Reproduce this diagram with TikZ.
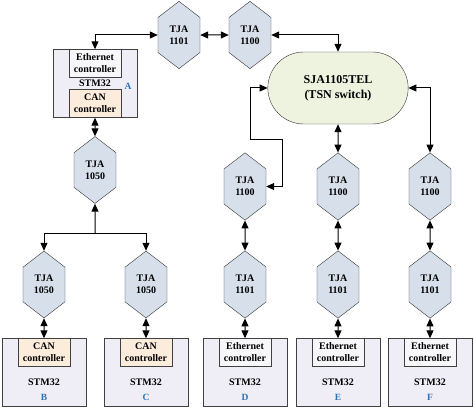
\documentclass[tikz,border=0pt]{standalone}
\usepackage{fontspec}
\setmainfont{Liberation Serif}
\usetikzlibrary{shapes.symbols,shapes.misc,arrows.meta,positioning}
\definecolor{hexfill}{RGB}{214,223,234}
\definecolor{boxfill}{RGB}{239,237,245}
\definecolor{canfill}{RGB}{251,236,220}
\definecolor{ethfill}{RGB}{247,247,249}
\definecolor{swfill}{RGB}{238,243,224}
\definecolor{tagblue}{RGB}{46,112,182}
\begin{document}
\begin{tikzpicture}[
  x=1pt, y=1pt,
  >={Triangle[length=8pt,width=7pt]},
  link/.style={<->, line width=1pt},
  feed/.style={->, line width=1pt},
  hexa/.style={signal, signal to=north and south, signal pointer angle=105, draw=black!80, fill=hexfill, minimum width=42pt, minimum height=50pt, inner sep=0pt, font=\bfseries\fontsize{10}{12}\selectfont, align=center},
  mcu/.style={rectangle, draw=black!75, fill=boxfill, minimum width=84pt, minimum height=68pt, inner sep=0pt},
  ctrl/.style={rectangle, draw=black!75, minimum width=52pt, minimum height=28pt, inner sep=0pt, font=\bfseries\fontsize{10}{12}\selectfont, align=center},
  lbl/.style={font=\bfseries\fontsize{10}{12}\selectfont},
  tag/.style={font=\bfseries\fontsize{9.5}{11}\selectfont, text=tagblue}
]
\useasboundingbox (0,0) rectangle (474,412);

\node[hexa] (tja1101top) at (179,377) {TJA\\1101};
\node[hexa, right of=tja1101top, node distance=71pt] (tja1100top) {TJA\\1100};

\node[mcu] (mcuA) at (95,328.5) {};
\node[ctrl, fill=ethfill, anchor=north] (ethA) at (mcuA.north) {Ethernet\\controller};
\node[ctrl, fill=canfill, anchor=south] (canA) at (mcuA.south) {CAN\\controller};
\node[lbl] (stmA) at (95,329) {STM32};
\node[tag] (tagA) at (128,326) {A};

\node[rounded rectangle, draw=black!80, fill=swfill, minimum width=147pt, minimum height=72pt, font=\bfseries\fontsize{12}{15}\selectfont, align=center] (switch) at (338,324) {SJA1105TEL\\(TSN switch)};

\node[hexa] (tja1050A) at (95,242) {TJA\\1050};
\coordinate (split) at (95,178);
\node[hexa] (tja1050B) at (44,127.5) {TJA\\1050};
\node[hexa] (tja1050C) at (146,127.5) {TJA\\1050};

\node[hexa] (tja1100D) at (245,225.5) {TJA\\1100};
\node[hexa, right of=tja1100D, node distance=93pt] (tja1100E) {TJA\\1100};
\node[hexa, right of=tja1100E, node distance=92pt] (tja1100F) {TJA\\1100};
\node[hexa, below of=tja1100D, node distance=98pt] (tja1101D) {TJA\\1101};
\node[hexa, below of=tja1100E, node distance=98pt] (tja1101E) {TJA\\1101};
\node[hexa, below of=tja1100F, node distance=98pt] (tja1101F) {TJA\\1101};
\coordinate (bendD) at (282,272);

\node[mcu] (mcuB) at (44,39.5) {};
\node[ctrl, fill=canfill, anchor=north] (ctrlB) at (mcuB.north) {CAN\\controller};
\node[lbl] (stmB) at (44,30) {STM32};
\node[tag] (tagB) at (44,15) {B};
\node[mcu] (mcuC) at (146,39.5) {};
\node[ctrl, fill=canfill, anchor=north] (ctrlC) at (mcuC.north) {CAN\\controller};
\node[lbl] (stmC) at (146,30) {STM32};
\node[tag] (tagC) at (146,15) {C};
\node[mcu] (mcuD) at (245,39.5) {};
\node[ctrl, fill=ethfill, anchor=north] (ctrlD) at (mcuD.north) {Ethernet\\controller};
\node[lbl] (stmD) at (245,30) {STM32};
\node[tag] (tagD) at (245,15) {D};
\node[mcu] (mcuE) at (338,39.5) {};
\node[ctrl, fill=ethfill, anchor=north] (ctrlE) at (mcuE.north) {Ethernet\\controller};
\node[lbl] (stmE) at (338,30) {STM32};
\node[tag] (tagE) at (338,15) {E};
\node[mcu] (mcuF) at (430,39.5) {};
\node[ctrl, fill=ethfill, anchor=north] (ctrlF) at (mcuF.north) {Ethernet\\controller};
\node[lbl] (stmF) at (430,30) {STM32};
\node[tag] (tagF) at (430,15) {F};

\draw[link] (tja1101top.west) -| (ethA.north);
\draw[link] (tja1101top) -- (tja1100top);
\draw[link] (tja1100top.east) -| (switch.north);
\draw[link] (canA) -- (tja1050A);
\draw[feed] (split) -- (tja1050A);
\draw[feed] (split) -| (tja1050B);
\draw[feed] (split) -| (tja1050C);
\draw[link] (tja1050B) -- (ctrlB);
\draw[link] (tja1050C) -- (ctrlC);

\draw[link] (switch.west) -- ++(-17,0) |- (bendD) |- (tja1100D.east);
\draw[link] (switch) -- (tja1100E);
\draw[link] (switch.east) -| (tja1100F);
\draw[link] (tja1100D) -- (tja1101D);
\draw[link] (tja1100E) -- (tja1101E);
\draw[link] (tja1100F) -- (tja1101F);
\draw[link] (tja1101D) -- (ctrlD);
\draw[link] (tja1101E) -- (ctrlE);
\draw[link] (tja1101F) -- (ctrlF);
\end{tikzpicture}
\end{document}
